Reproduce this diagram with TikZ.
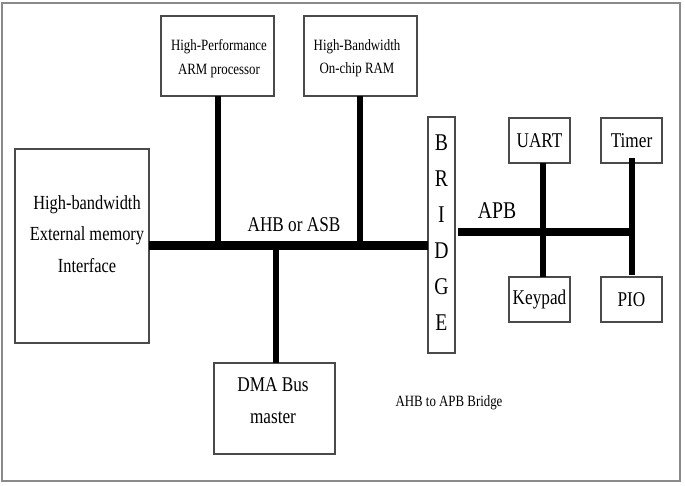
\documentclass[tikz,border=0pt]{standalone}
\usepackage{fontspec}
\setmainfont{Liberation Serif}[FakeStretch=0.82]
\newcommand\myfs[2]{\fontsize{#1}{#2}\selectfont}
\definecolor{boxgray}{HTML}{4A4A4A}
\definecolor{framegray}{HTML}{8A8A8A}
\begin{document}
\begin{tikzpicture}[x=1pt,y=-1pt,
  box/.style={draw=boxgray,line width=1.3pt,inner sep=0pt,outer sep=0pt},
  txt/.style={inner sep=0pt,align=center,text=black},
  bus/.style={line width=9pt,black},
  apbbus/.style={line width=8pt,black},
  tap/.style={line width=5.5pt,black}]
\useasboundingbox (0,0) rectangle (685,486);
\node[draw=framegray,line width=2pt,minimum width=678pt,minimum height=478pt,inner sep=0pt] (frame) at (341,242) {};
% boxes
\node[box,minimum width=134pt,minimum height=194pt] (ext) at (82,246) {};
\node[box,minimum width=113pt,minimum height=80pt] (arm) at (217.5,56) {};
\node[box,minimum width=113pt,minimum height=80pt] (ram) at (360.5,56) {};
\node[box,minimum width=27pt,minimum height=236pt] (bridge) at (441.5,235) {};
\node[box,minimum width=121pt,minimum height=91pt] (dma) at (274.5,408.5) {};
\node[box,minimum width=61pt,minimum height=45pt] (uart) at (539.5,140.5) {};
\node[box,minimum width=61pt,minimum height=45pt] (timer) at (631.5,140.5) {};
\node[box,minimum width=61pt,minimum height=45pt] (keypad) at (539.5,299.5) {};
\node[box,minimum width=61pt,minimum height=45pt] (pio) at (631.5,299.5) {};
% texts
\node[txt,font=\myfs{20}{31.5}] (extt) at (87,234) {High-bandwidth\\External memory\\Interface};
\node[txt,font=\myfs{15.7}{24}] (armt) at (219,59) {High-Performance\\ARM processor};
\node[txt,font=\myfs{15.7}{23}] (ramt) at (357,58) {High-Bandwidth\\On-chip RAM};
\node[txt,font=\myfs{24}{36}] (bridget) at (441.5,233) {B\\R\\I\\D\\G\\E};
\node[txt,font=\myfs{21}{32}] (dmat) at (273,401) {DMA Bus\\master};
\node[txt,font=\myfs{21}{24}] (uartt) at (uart) {UART};
\node[txt,font=\myfs{21}{24}] (timert) at (timer) {Timer};
\node[txt,font=\myfs{21}{24}] (keypadt) at (keypad) {Keypad};
\node[txt,font=\myfs{21}{24}] (piot) at (pio) {PIO};
\node[txt,font=\myfs{21}{24}] (ahbt) at (294,225) {AHB or ASB};
\node[txt,font=\myfs{24}{28}] (apbt) at (497,211) {APB};
\node[txt,font=\myfs{15.7}{18}] (captiont) at (449,403) {AHB to APB Bridge};
% buses
\coordinate (ahbL) at (ext.east);
\coordinate (ahbR) at (bridge.west |- ext.east);
\draw[bus] (ahbL) -- (ahbR);
\coordinate (armtap) at (218,246);
\coordinate (ramtap) at (360,246);
\coordinate (dmatap) at (276,246);
\draw[tap] (arm.south -| armtap) -- (armtap);
\draw[tap] (ram.south -| ramtap) -- (ramtap);
\draw[tap] (dmatap) -- (dma.north -| dmatap);
\coordinate (apbL) at (458,232.5);
\coordinate (apbR) at (632,232.5);
\draw[apbbus] (apbL) -- (apbR);
\coordinate (uartx) at (543,232.5);
\draw[tap] (uart.south -| uartx) -- (keypad.north -| uartx);
\draw[tap] ([yshift=5pt]timer.south -| apbR) -- ([yshift=2pt]pio.north -| apbR);
\end{tikzpicture}
\end{document}
